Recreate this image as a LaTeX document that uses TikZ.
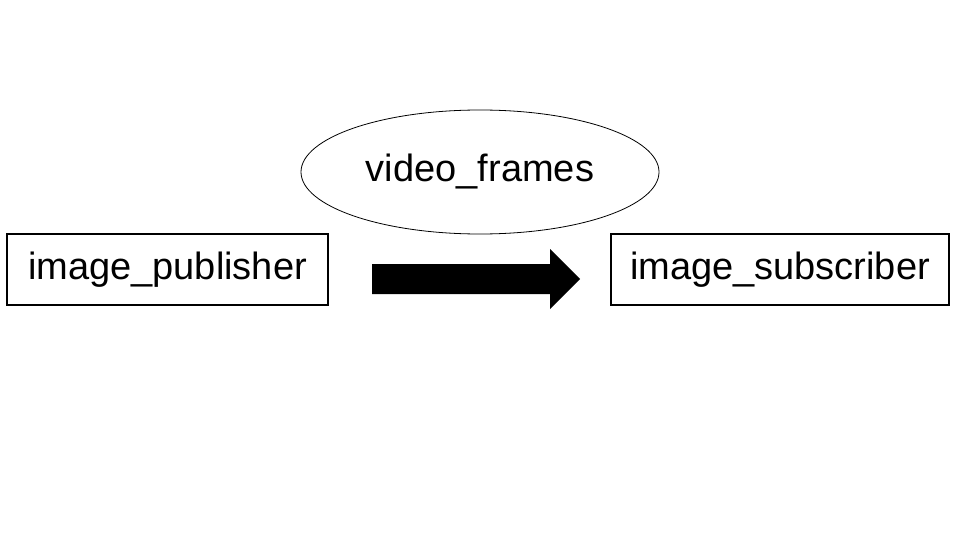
\documentclass[tikz,border=0pt]{standalone}
\usepackage{fontspec}
\setmainfont{Liberation Sans}
\usetikzlibrary{shapes.geometric}
\begin{document}
\begin{tikzpicture}[x=1pt,y=-1pt,
  box/.style={draw,line width=1.5pt,inner sep=0pt,font=\fontsize{38}{40}\selectfont},
  topic/.style={draw,ellipse,line width=0.8pt,inner sep=0pt,font=\fontsize{38}{40}\selectfont}]
\useasboundingbox (0,0) rectangle (960,540);
\node[box,minimum width=321pt,minimum height=71pt] (pub) at (167.5,269.5) {image\_publisher};
\node[box,minimum width=338pt,minimum height=71pt] (sub) at (780,269.5) {image\_subscriber};
\node[topic,minimum width=358pt,minimum height=124pt] (vf) at (480,172) {video\_frames};
\fill (372,264) -- (550,264) -- (550,249) -- (580,279) -- (550,309) -- (550,294) -- (372,294) -- cycle;
\end{tikzpicture}
\end{document}
